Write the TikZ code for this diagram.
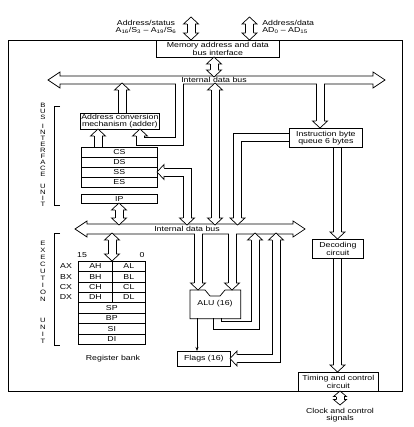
\documentclass[tikz,border=0pt]{standalone}
\usepackage{fontspec}
\setmainfont{Liberation Sans}[FakeStretch=1.22]
\usetikzlibrary{calc,arrows.meta}
\tikzset{
  hlen/.store in=\hlen, hhw/.store in=\hhw, hsw/.store in=\hsw,
  hlen=7, hhw=7.5, hsw=4,
  headU/.pic={\fill[white] (-\hhw,\hlen) -- (0,0) -- (\hhw,\hlen) -- cycle;
    \draw (-\hsw,\hlen) -- (-\hhw,\hlen) -- (0,0) -- (\hhw,\hlen) -- (\hsw,\hlen);},
  headD/.pic={\fill[white] (-\hhw,-\hlen) -- (0,0) -- (\hhw,-\hlen) -- cycle;
    \draw (-\hsw,-\hlen) -- (-\hhw,-\hlen) -- (0,0) -- (\hhw,-\hlen) -- (\hsw,-\hlen);},
  headL/.pic={\fill[white] (\hlen,-\hhw) -- (0,0) -- (\hlen,\hhw) -- cycle;
    \draw (\hlen,-\hsw) -- (\hlen,-\hhw) -- (0,0) -- (\hlen,\hhw) -- (\hlen,\hsw);},
  gap/.style={fill=white, draw=none},
}
\begin{document}
\begin{tikzpicture}[x=1pt,y=-1pt, line width=0.7pt,
  font=\fontsize{7.2}{7.4}\selectfont,
  box/.style={draw, fill=white, inner sep=0pt, align=center, anchor=north west},
  lbl/.style={inner sep=0pt, align=center}]
\useasboundingbox (0,0) rectangle (413,427);

% frame
\draw (8,40) rectangle (402,391);

% buses
\draw[fill=white] (48,80) -- (60,72) -- (60,76) -- (373,76) -- (373,72) -- (385,80)
  -- (373,88) -- (373,84) -- (60,84) -- (60,88) -- cycle;
\draw[fill=white] (75,229) -- (87,221) -- (87,224) -- (293,224) -- (293,221) -- (305,229)
  -- (293,237) -- (293,234) -- (87,234) -- (87,237) -- cycle;

% boxes
\node[box, minimum width=123pt, minimum height=17pt] (mem) at (156,40) {Memory address and data\\bus interface};
\node[box, minimum width=79pt, minimum height=16pt] (addr) at (80,113) {Address conversion\\mechanism (adder)};
\node[box, minimum width=76pt, minimum height=10pt] (cs) at (81,147) {CS};
\node[box, minimum width=76pt, minimum height=10pt] (ds) at (81,157) {DS};
\node[box, minimum width=76pt, minimum height=10pt] (ss) at (81,167) {SS};
\node[box, minimum width=76pt, minimum height=10pt] (es) at (81,177) {ES};
\node[box, minimum width=76pt, minimum height=9pt] (ip) at (81,194) {IP};
\node[box, minimum width=73pt, minimum height=19pt] (queue) at (289,128) {Instruction byte\\queue 6 bytes};
\node[box, minimum width=51pt, minimum height=19pt] (dec) at (312,239) {Decoding\\circuit};
\node[box, minimum width=80pt, minimum height=19pt] (tim) at (298,372) {Timing and control\\circuit};
\node[box, minimum width=53pt, minimum height=15pt] (flags) at (177,351) {Flags (16)};

% register bank
\node[box, minimum width=34pt, minimum height=10.25pt] (ah) at (78,261) {AH};
\node[box, minimum width=33pt, minimum height=10.25pt] (al) at (112,261) {AL};
\node[box, minimum width=34pt, minimum height=10.25pt] (bh) at (78,271.25) {BH};
\node[box, minimum width=33pt, minimum height=10.25pt] (bl) at (112,271.25) {BL};
\node[box, minimum width=34pt, minimum height=10.25pt] (ch) at (78,281.5) {CH};
\node[box, minimum width=33pt, minimum height=10.25pt] (cl) at (112,281.5) {CL};
\node[box, minimum width=34pt, minimum height=10.25pt] (dh) at (78,291.75) {DH};
\node[box, minimum width=33pt, minimum height=10.25pt] (dl) at (112,291.75) {DL};
\node[box, minimum width=67pt, minimum height=10.5pt] (sp) at (78,302) {SP};
\node[box, minimum width=67pt, minimum height=10.5pt] (bp) at (78,312.5) {BP};
\node[box, minimum width=67pt, minimum height=10.5pt] (si) at (78,323) {SI};
\node[box, minimum width=67pt, minimum height=10.5pt] (di) at (78,333.5) {DI};
\node[lbl] (ax) at ($(ah.west)+(-12,0)$) {AX};
\node[lbl] (bx) at ($(bh.west)+(-12,0)$) {BX};
\node[lbl] (cx) at ($(ch.west)+(-12,0)$) {CX};
\node[lbl] (dx) at ($(dh.west)+(-12,0)$) {DX};
\node[lbl] (n15) at (82,255) {15};
\node[lbl] (n0) at (142,255) {0};
\node[lbl] (rbank) at (113,359) {Register bank};

% ALU
\node[inner sep=0pt, minimum width=50pt, minimum height=28pt, anchor=north west] (alu) at (190,290) {};
\draw[fill=white] (alu.north west) -- ++(15,0) -- ++(5,6) -- ++(10,0) -- ++(5,-6)
  -- (alu.north east) -- (alu.south east) -- (alu.south west) -- cycle;
\node[lbl] (alutxt) at (215,304) {ALU (16)};

% openings in the bus outlines where hollow paths join
\fill[gap] (176,82.5) rectangle (183,85.5);
\fill[gap] (316.5,82.5) rectangle (323.5,85.5);
\fill[gap] (194.5,232.5) rectangle (201.5,235.5);
\fill[gap] (228.5,232.5) rectangle (235.5,235.5);

% hollow connector shafts (two outline lines each)
% address/status and address/data
\draw (187,24) -- (187,33) (195,24) -- (195,33);
\draw (245.5,24) -- (245.5,33) (253.5,24) -- (253.5,33);
% memory interface <-> internal bus
\draw (210,64) -- (210,70) (218,64) -- (218,70);
% address conversion -> internal bus
\draw (118,90) -- (118,113) (126,90) -- (126,113);
% internal bus -> address conversion
\draw (175.5,84) -- (175.5,137) -- (144,137) -- (144,136);
\draw (183.5,84) -- (183.5,145) -- (136,145) -- (136,136);
% CS -> address conversion
\draw (94,136) -- (94,147) (102,136) -- (102,147);
% IP <-> lower bus
\draw (115,210) -- (115,218) (123,210) -- (123,218);
% SS <-> lower bus
\draw (164,168) -- (191,168) -- (191,218);
\draw (164,176) -- (183,176) -- (183,218);
% upper bus <-> lower bus
\draw (211,90) -- (211,218) (219,90) -- (219,218);
% instruction queue -> lower bus
\draw (289,133.5) -- (233.5,133.5) -- (233.5,218);
\draw (289,141.5) -- (241.5,141.5) -- (241.5,218);
% upper bus -> instruction queue
\draw (316,84) -- (316,121) (324,84) -- (324,121);
% queue -> decoding
\draw (333.5,147) -- (333.5,232) (341.5,147) -- (341.5,232);
% decoding -> timing
\draw (333.5,258) -- (333.5,365) (341.5,258) -- (341.5,365);
% timing <-> clock
\draw (336,396.5) -- (336,399.5) (344,396.5) -- (344,399.5);
% lower bus -> ALU
\draw (194,234) -- (194,283) (202,234) -- (202,283);
\draw (228,234) -- (228,283) (236,234) -- (236,283);
% ALU -> lower bus
\draw (213.5,318) -- (213.5,329) -- (259,329) -- (259,240);
\draw (221.5,318) -- (221.5,321) -- (251,321) -- (251,240);
% flags <-> lower bus
\draw (237,362.5) -- (280,362.5) -- (280,240);
\draw (237,354.5) -- (272,354.5) -- (272,240);
% register bank <-> lower bus
\draw (108,240) -- (108,254) (116,240) -- (116,254);

% arrow heads
\pic at (191,17) {headU}; \pic at (191,40) {headD};
\pic at (249.5,17) {headU}; \pic at (249.5,40) {headD};
\pic at (214,57) {headU}; \pic at (214,77) {headD};
\pic at (122,83) {headU};
\pic at (140,129) {headU};
\pic at (98,129) {headU};
\pic at (119,203) {headU}; \pic at (119,225) {headD};
\pic at (157,172) {headL}; \pic at (187,225) {headD};
\pic at (215,83) {headU}; \pic at (215,225) {headD};
\pic at (237.5,225) {headD};
\pic at (320,128) {headD};
\pic at (337.5,239) {headD};
\pic at (337.5,372) {headD};
\pic[hlen=5.5, hhw=6.5] at (340,391) {headU};
\pic[hlen=5.5, hhw=6.5] at (340,405) {headD};
\pic at (198,290) {headD};
\pic at (232,290) {headD};
\pic at (255,233) {headU};
\pic at (230,358.5) {headL}; \pic at (276,233) {headU};
\pic at (112,233) {headU}; \pic at (112,261) {headD};

% thin arrow ALU -> flags
\draw[-{Stealth[length=4pt,width=3pt]}] (197,318) -- (197,351);

% bus labels
\node[lbl] (tbus) at (214,80) {Internal data bus};
\node[lbl] (lbus) at (187,229) {Internal data bus};

% outside labels
\node[lbl] (as) at (146,27) {Address/status\\A\textsubscript{16}/S\textsubscript{3} -- A\textsubscript{19}/S\textsubscript{6}};
\node[lbl, align=left, anchor=west] (ad) at (262,27) {Address/data\\AD\textsubscript{0} -- AD\textsubscript{15}};
\node[lbl] (clk) at (340,415) {Clock and control\\signals};

% unit brackets and labels
\draw (60,106) -| (54,205) -- (60,205);
\draw (60,233) -| (54,345) -- (60,345);
\node[lbl, font=\fontsize{6.3}{6}\selectfont] (biu) at (43,154.5)
  {B\\U\\S\\[3pt]I\\N\\T\\E\\R\\F\\A\\C\\E\\[6pt]U\\N\\I\\T};
\node[lbl, font=\fontsize{6.3}{7}\selectfont] (eu) at (43,292.5)
  {E\\X\\E\\C\\U\\T\\I\\O\\N\\[14pt]U\\N\\I\\T};
\end{tikzpicture}
\end{document}
